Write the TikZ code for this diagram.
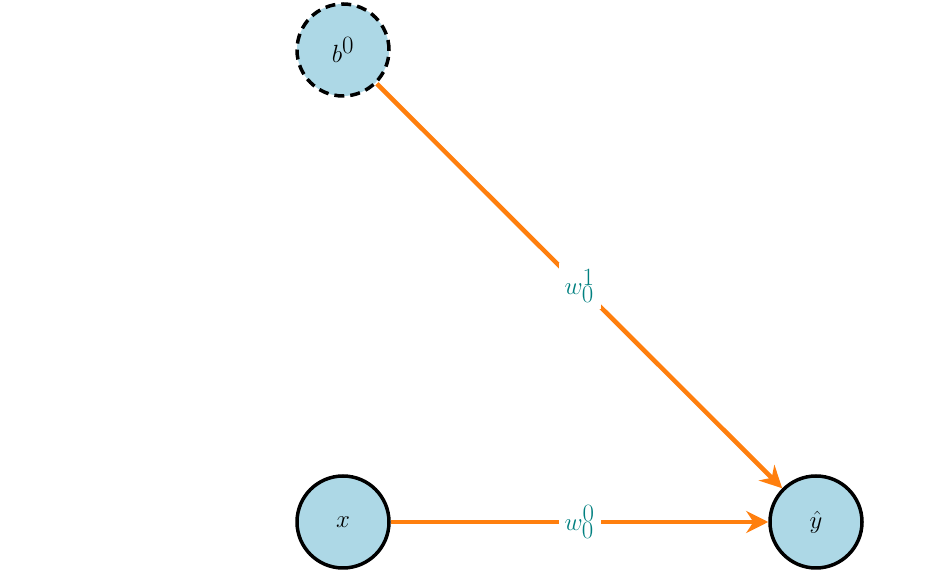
\documentclass[tikz,border=0pt]{standalone}
\usetikzlibrary{arrows.meta}
\definecolor{nodefill}{RGB}{173,216,230}
\definecolor{edgec}{RGB}{255,127,14}
\definecolor{labc}{RGB}{0,128,128}
\begin{document}
\begin{tikzpicture}[x=1pt,y=1pt,
  neuron/.style={circle,draw=black,fill=nodefill,line width=3.5pt,minimum size=92pt,inner sep=0pt,font=\fontsize{34}{40}\selectfont},
  conn/.style={draw=edgec,line width=4.5pt,-{Stealth[length=22pt,width=22pt]}},
  wlab/.style={fill=white,text=labc,font=\fontsize{34}{40}\selectfont,inner sep=6pt}]
\useasboundingbox (0,0) rectangle (926,580);
\node[neuron,dashed,dash pattern=on 10pt off 6pt] (b) at (343,530) {$b^0$};
\node[neuron] (x) at (343,58) {$x$};
\node[neuron] (y) at (816,58) {$\hat y$};
\draw[conn] (x) -- node[wlab] {$w_0^0$} (y);
\draw[conn] (b) -- node[wlab] {$w_0^1$} (y);
\end{tikzpicture}
\end{document}
